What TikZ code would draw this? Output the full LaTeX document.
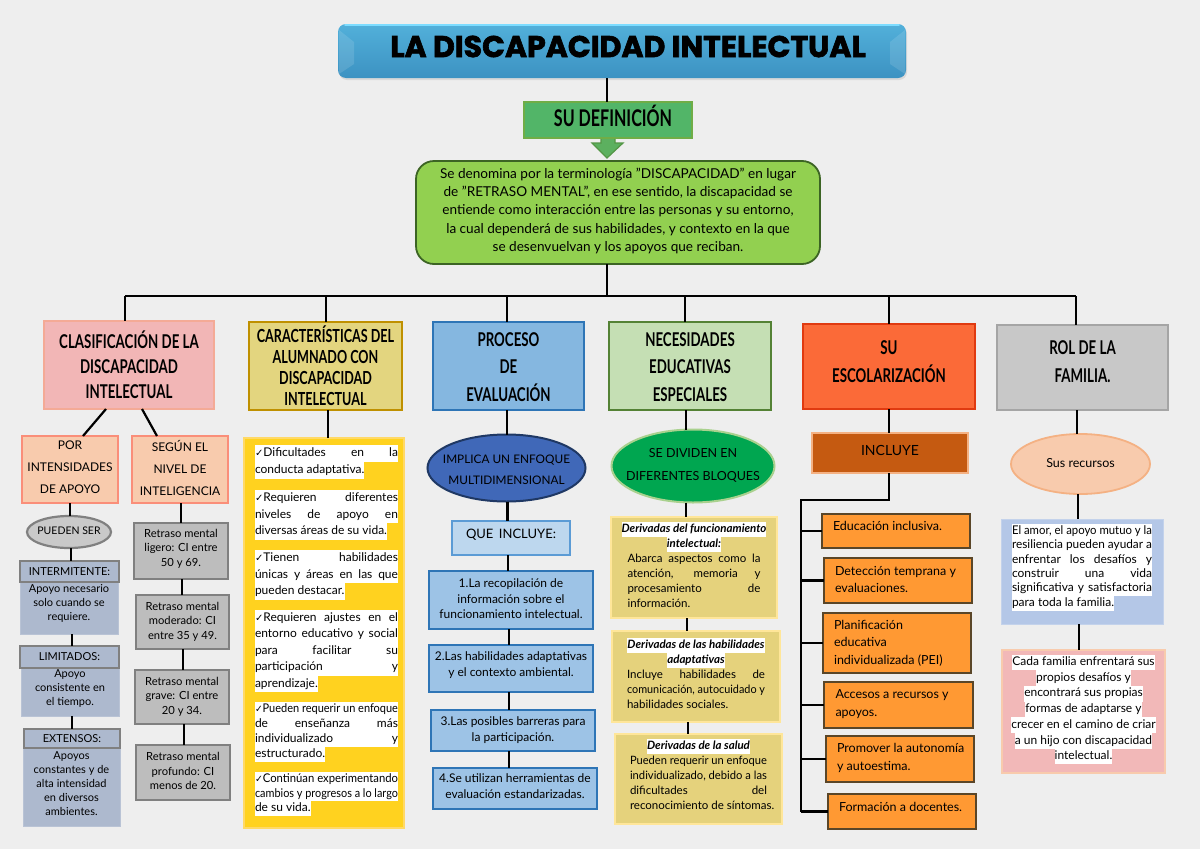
\documentclass[tikz,border=0pt]{standalone}
\usepackage{fontspec}
\usepackage{graphicx}
\usetikzlibrary{shapes.geometric}
\setmainfont{Lato}
\newfontfamily\headfont[FakeStretch=0.70]{Lato}
\newfontfamily\titlefont[BoldFeatures={FakeBold=2.2}]{Poppins}
\newfontfamily\dejavu{DejaVu Sans}
\setlength\fboxsep{0pt}
\definecolor{bgc}{HTML}{EEEEEE}
\newcommand\mybox[7]{\node[#1,minimum width={(#5-#3)*1pt},minimum height={(#6-#4)*1pt}] (#2) at ({(#3+#5)/2},{(#4+#6)/2}) {#7};}
\newcommand\txc[2]{\raisebox{\dimexpr#1pt-.25em\relax}[0pt][0pt]{\begin{tabular}{@{}c@{}}#2\end{tabular}}}
\newcommand\txe[2]{\makebox[0pt]{\txc{#1}{#2}}}
\newcommand\txl[3]{\raisebox{\dimexpr#1pt-.25em\relax}[0pt][0pt]{\makebox[#2pt][l]{\begin{tabular}{@{}l@{}}#3\end{tabular}}}}
\newcommand\jln[2]{\begingroup\sbox0{#2}\ifdim\wd0>#1pt\resizebox{#1pt}{\height}{\usebox0}\else\makebox[#1pt][s]{#2}\fi\endgroup}
\newcommand\hln[2]{\colorbox{white}{\jln{#1}{\strut #2}}}
\newcommand\hlx[1]{\colorbox{white}{\strut #1}}
\newcommand\ck{{\dejavu\fontsize{10}{10}\selectfont ✓}}
\newcommand\fs[2]{\fontsize{#1}{#2}\selectfont}
\newcommand\vc[3]{\path (#3,0) coordinate (vx); \draw[conn] (vx |- #1.south) -- (vx |- #2.north);}
\newcommand\dr[2]{\path (#1,0) coordinate (vx); \draw[conn] (vx |- busL) -- (vx |- #2.north);}
\newcommand\stub[1]{\draw[conn] (tr |- #1.west) -- (#1.west);}
\tikzset{
  conn/.style={draw=black,line width=2.2pt},
  base/.style={draw,rectangle,inner sep=0pt,outer sep=0pt,align=center},
  headb/.style={base,line width=1.8pt,font=\headfont\bfseries\fs{19}{25}},
  head4/.style={headb,font=\headfont\bfseries\fs{18}{21}},
  subb/.style={base,fill=#1,line width=1.5pt,draw=#1!70!red,font=\fs{12.5}{22}},
  ell/.style={ellipse,draw,inner sep=0pt,outer sep=0pt,align=center},
  hdrb/.style={base,fill=bluebox,draw=gray,line width=1.8pt,font=\fs{11}{14}},
  bodyb/.style={base,fill=bluebox,draw=bluebox!85!white,line width=1pt,font=\fs{11}{14}},
  retb/.style={base,fill=retfill,draw=retline,line width=1.5pt,font=\fs{11.2}{14.5}},
  procb/.style={base,fill=procfill,draw=procline,line width=1.2pt,font=\fs{12}{15.5}},
  derb/.style={base,fill=derfill,draw=derline,line width=1.2pt,font=\fs{11.5}{15}},
  orab/.style={base,fill=orafill,draw=oraline,line width=1.2pt,font=\fs{12.5}{17.5}},
  item/.style={anchor=north west,inner sep=0pt,outer sep=0pt},
}
\definecolor{bluebox}{HTML}{ADB9CE}
\definecolor{retfill}{HTML}{BDBDBD}
\definecolor{retline}{HTML}{808080}
\definecolor{procfill}{HTML}{9DC3E6}
\definecolor{procline}{HTML}{2E75B6}
\definecolor{derfill}{HTML}{E5D27C}
\definecolor{derline}{HTML}{FFE699}
\definecolor{orafill}{HTML}{FF9933}
\definecolor{oraline}{HTML}{5A4628}
\definecolor{peach}{HTML}{F8CBAD}
\begin{document}
\begin{tikzpicture}[x=1pt,y=-1pt]
\useasboundingbox (0,0) rectangle (1200,849);
\fill[bgc] (0,0) rectangle (1200,849);
% title
\fill[black!15,rounded corners=8pt] (339,26) rectangle (907,80);
\mybox{base,draw=none,rounded corners=8pt,top color={rgb,255:red,82;green,176;blue,218},bottom color={rgb,255:red,60;green,146;blue,194},font=\titlefont\bfseries\fs{30}{34}}{ttl}{338}{24}{906}{78}{\hspace*{12pt}\txc{2}{LA DISCAPACIDAD INTELECTUAL}}
\fill[white,opacity=.12] (339,30) -- (354,42) -- (354,64) -- (339,74) -- cycle;
\fill[white,opacity=.12] (905,30) -- (890,42) -- (890,64) -- (905,74) -- cycle;
\draw[line width=1.5pt,color={rgb,255:red,125;green,220;blue,255},line cap=round] (345,25) -- (899,25);
% definition
\draw[fill={rgb,255:red,92;green,176;blue,95},draw={rgb,255:red,84;green,150;blue,70},line width=1.2pt] (601,138) -- (601,143) -- (592,143) -- (607,158) -- (623,143) -- (615,143) -- (615,138) -- cycle;
\mybox{headb,fill={rgb,255:red,82;green,181;blue,104},draw={rgb,255:red,112;green,173;blue,71},line width=1.5pt,font=\headfont\bfseries\fs{23}{25}}{sd}{524}{102}{692}{138}{\hspace*{10pt}\txc{0}{SU DEFINICIÓN}}
\mybox{base,rounded corners=18pt,fill={rgb,255:red,146;green,208;blue,80},draw={rgb,255:red,60;green,100;blue,36},line width=1.8pt,font=\fs{13.6}{18.2}}{def}{416}{161}{820}{264}{\txc{1}{Se denomina por la terminología "DISCAPACIDAD" en lugar\\de "RETRASO MENTAL", en ese sentido, la discapacidad se\\entiende como interacción entre las personas y su entorno,\\la cual dependerá de sus habilidades, y contexto en la que\\se desenvuelvan y los apoyos que reciban.}}
\coordinate (busL) at (125,296);
\coordinate (busR) at (1076,296);
% top row
\mybox{headb,fill={rgb,255:red,242;green,182;blue,182},draw={rgb,255:red,244;green,170;blue,150}}{clas}{44}{321}{214}{409}{\txc{-3}{CLASIFICACIÓN DE LA\\DISCAPACIDAD\\INTELECTUAL}}
\mybox{head4,fill={rgb,255:red,227;green,213;blue,127},draw={rgb,255:red,191;green,144;blue,0}}{car}{249}{322}{402}{410}{\txc{-3}{CARACTERÍSTICAS DEL\\ALUMNADO CON\\DISCAPACIDAD\\INTELECTUAL}}
\mybox{headb,fill={rgb,255:red,133;green,183;blue,224},draw={rgb,255:red,46;green,117;blue,182},font=\headfont\bfseries\fs{19}{27.5}}{proc}{433}{322}{584}{410}{\txc{-2}{PROCESO\\DE\\EVALUACIÓN}}
\mybox{headb,fill={rgb,255:red,197;green,223;blue,180},draw={rgb,255:red,84;green,130;blue,53},font=\headfont\bfseries\fs{19}{27.5}}{nec}{609}{322}{771}{410}{\txc{-2}{NECESIDADES\\EDUCATIVAS\\ESPECIALES}}
\mybox{headb,fill={rgb,255:red,251;green,106;blue,56},draw={rgb,255:red,224;green,58;blue,16},font=\headfont\bfseries\fs{19}{28}}{esc}{803}{324}{975}{409}{\txc{4}{SU\\ESCOLARIZACIÓN}}
\mybox{headb,fill={rgb,255:red,200;green,200;blue,200},draw={rgb,255:red,165;green,165;blue,165},font=\headfont\bfseries\fs{19}{28}}{rol}{997}{325}{1168}{410}{\txc{5}{ROL DE LA\\FAMILIA.}}
% column 1
\mybox{subb=peach,font=\fs{12}{22}}{por}{22}{436}{118}{503}{\txc{2}{POR\\INTENSIDADES\\DE APOYO}}
\mybox{subb=peach,font=\fs{12}{22}}{seg}{132}{436}{228}{503}{\txc{0}{SEGÚN EL\\NIVEL DE\\INTELIGENCIA}}
\node[ell,fill=black!21,draw=gray,line width=2.2pt,minimum width=84pt,minimum height=32pt,font=\fs{10.5}{14}] (pue) at (69,532) {\txe{0}{PUEDEN SER}};
\mybox{bodyb}{b1}{20}{582}{118}{634}{\txc{4}{Apoyo necesario\\solo cuando se\\requiere.}}
\mybox{hdrb}{h1}{20}{561}{119}{582}{INTERMITENTE:}
\mybox{bodyb}{b2}{21}{668}{119}{716}{\txc{3}{Apoyo\\consistente en\\el tiempo.}}
\mybox{hdrb}{h2}{20}{646}{119}{668}{LIMITADOS:}
\mybox{bodyb}{b3}{23}{748}{120}{826}{\txc{2}{Apoyos\\constantes y de\\alta intensidad\\en diversos\\ambientes.}}
\mybox{hdrb}{h3}{24}{729}{120}{748}{EXTENSOS:}
\mybox{retb}{r1}{134}{523}{228}{579}{\txc{2}{Retraso mental\\ligero: CI entre\\50 y 69.}}
\mybox{retb}{r2}{136}{595}{229}{649}{\txc{0}{Retraso mental\\moderado: CI\\entre 35 y 49.}}
\mybox{retb}{r3}{135}{670}{229}{724}{\txc{0}{Retraso mental\\grave: CI entre\\20 y 34.}}
\mybox{retb}{r4}{136}{745}{230}{800}{\txc{0}{Retraso mental\\profundo: CI\\menos de 20.}}
% column 2
\mybox{base,fill={rgb,255:red,255;green,210;blue,31},draw={rgb,255:red,255;green,217;blue,102},line width=2pt}{pan}{244}{438}{404}{828}{}
\node[item] (i1) at (255,445) {\fs{12}{17}\begin{tabular}{@{}l@{}}\hln{143}{\ck Dificultades en la}\\\hlx{conducta adaptativa.}\end{tabular}};
\node[item] (i2) at (255,490) {\fs{12}{16.6}\begin{tabular}{@{}l@{}}\hln{143}{\ck Requieren diferentes}\\\hln{143}{niveles de apoyo en}\\\hlx{diversas áreas de su vida.}\end{tabular}};
\node[item] (i3) at (255,550) {\fs{12}{16.6}\begin{tabular}{@{}l@{}}\hln{143}{\ck Tienen habilidades}\\\hln{143}{únicas y áreas en las que}\\\hlx{pueden destacar.}\end{tabular}};
\node[item] (i4) at (255,610) {\fs{12}{16.4}\begin{tabular}{@{}l@{}}\hln{143}{\ck Requieren ajustes en el}\\\hln{143}{entorno educativo y social}\\\hln{143}{para facilitar su}\\\hln{143}{participación y}\\\hlx{aprendizaje.}\end{tabular}};
\node[item] (i5) at (255,702) {\fs{12}{15}\begin{tabular}{@{}l@{}}\hln{143}{\ck Pueden requerir un enfoque}\\\hln{143}{de enseñanza más}\\\hln{143}{individualizado y}\\\hlx{estructurado.}\end{tabular}};
\node[item] (i6) at (255,772) {\fs{12}{14.7}\begin{tabular}{@{}l@{}}\hln{143}{\ck Continúan experimentando}\\\hln{143}{cambios y progresos a lo largo}\\\hlx{de su vida.}\end{tabular}};
% column 3
\node[ell,fill={rgb,255:red,64;green,104;blue,184},draw={rgb,255:red,31;green,56;blue,100},line width=2pt,minimum width=158pt,minimum height=67pt,font=\fs{11.8}{21}] (imp) at (506.5,468) {\txe{-2}{IMPLICA UN ENFOQUE\\MULTIDIMENSIONAL}};
\mybox{base,fill={rgb,255:red,189;green,215;blue,238},draw={rgb,255:red,91;green,155;blue,213},line width=1.2pt,font=\fs{13}{15}}{que}{452}{521}{570}{555}{\txc{3}{QUE\, INCLUYE:}}
\mybox{procb}{p1}{429}{571}{593}{629}{\txc{0}{1.La recopilación de\\información sobre el\\funcionamiento intelectual.}}
\mybox{procb}{p2}{429}{645}{593}{692}{\txc{3}{2.Las habilidades adaptativas\\y el contexto ambiental.}}
\mybox{procb}{p3}{431}{710}{595}{751}{\txc{0}{3.Las posibles barreras para\\la participación.}}
\mybox{procb}{p4}{433}{768}{597}{809}{\txc{1}{4.Se utilizan herramientas de\\evaluación estandarizadas.}}
% column 4
\node[ell,fill={rgb,255:red,0;green,166;blue,80},draw={rgb,255:red,169;green,209;blue,142},line width=2pt,minimum width=163pt,minimum height=73pt,font=\fs{12.5}{23}] (div) at (693,466) {\txe{2}{SE DIVIDEN EN\\DIFERENTES BLOQUES}};
\mybox{derb}{d1}{611}{517}{777}{618}{\txc{0}{\hlx{\itshape\bfseries Derivadas del funcionamiento}\\\hlx{\itshape\bfseries intelectual:}\\\jln{133}{Abarca aspectos como la}\\\jln{133}{atención, memoria y}\\\jln{133}{procesamiento de}\\\makebox[133pt][l]{información.}}}
\mybox{derb}{d2}{612}{631}{780}{722}{\txc{1}{\hlx{\itshape\bfseries Derivadas de las habilidades}\\\hlx{\itshape\bfseries adaptativas}\\\jln{138}{Incluye habilidades de}\\\jln{138}{comunicación, autocuidado y}\\\makebox[138pt][l]{habilidades sociales.}}}
\mybox{derb}{d3}{615}{734}{782}{824}{\txc{2}{\hlx{\itshape\bfseries Derivadas de la salud}\\\jln{137}{Pueden requerir un enfoque}\\\jln{137}{individualizado, debido a las}\\\jln{137}{dificultades del}\\\makebox[137pt][l]{reconocimiento de síntomas.}}}
% column 5
\mybox{base,fill={rgb,255:red,197;green,90;blue,17},draw={rgb,255:red,244;green,177;blue,131},line width=1.8pt,font=\fs{14}{16}}{inc}{812}{433}{968}{473}{\txc{1}{INCLUYE}}
\mybox{orab}{o1}{822}{514}{970}{548}{\txl{4}{126}{Educación inclusiva.}}
\mybox{orab}{o2}{824}{558}{972}{603}{\txl{0}{126}{Detección temprana y\\evaluaciones.}}
\mybox{orab}{o3}{823}{613}{971}{673}{\txl{0}{126}{Planificación\\educativa\\individualizada (PEI)}}
\mybox{orab}{o4}{824}{682}{973}{728}{\txl{1}{126}{Accesos a recursos y\\apoyos.}}
\mybox{orab}{o5}{826}{736}{974}{782}{\txl{1}{126}{Promover la autonomía\\y autoestima.}}
\mybox{orab}{o6}{828}{794}{976}{829}{\txl{4}{126}{Formación a docentes.}}
% column 6
\node[ell,fill=peach,draw={rgb,255:red,244;green,177;blue,131},line width=1.8pt,minimum width=139pt,minimum height=60pt,font=\fs{12.5}{15}] (sus) at (1080.5,464) {\txe{0}{Sus recursos}};
\mybox{base,fill={rgb,255:red,180;green,199;blue,231},draw={rgb,255:red,195;green,210;blue,235},line width=1pt,font=\fs{12}{14.4}}{fam1}{1001}{519}{1163}{624}{\txc{4}{\hln{140}{El amor, el apoyo mutuo y la}\\\hln{140}{resiliencia pueden ayudar a}\\\hln{140}{enfrentar los desafíos y}\\\hln{140}{construir una vida}\\\hln{140}{significativa y satisfactoria}\\\makebox[140pt][l]{\hlx{para toda la familia.}}}}
\mybox{base,fill={rgb,255:red,242;green,184;blue,184},draw=peach,line width=1.2pt,font=\fs{12}{15.7}}{fam2}{1002}{650}{1165}{773}{\txc{2}{\hlx{Cada familia enfrentará sus}\\\hlx{propios desafíos y}\\\hlx{encontrará sus propias}\\\hlx{formas de adaptarse y}\\\hlx{crecer en el camino de criar}\\\hlx{a un hijo con discapacidad}\\\hlx{intelectual.}}}
% connectors
\vc{ttl}{sd}{607}
\path (607,0) coordinate (vx); \draw[conn] (vx |- def.south) -- (vx |- busL);
\draw[conn] (busL) -- (busR);
\dr{125}{clas}\dr{326}{car}\dr{507}{proc}\dr{685}{nec}\dr{889}{esc}\dr{1076}{rol}
\draw[conn] ([xshift=-23pt]clas.south) -- ([xshift=13pt]por.north);
\draw[conn] ([xshift=13pt]clas.south) -- ([xshift=-23pt]seg.north);
\vc{por}{pue}{70}\vc{pue}{h1}{71}\vc{b1}{h2}{72}\vc{b2}{h3}{72}
\vc{seg}{r1}{181}\vc{r1}{r2}{182}\vc{r2}{r3}{183}\vc{r3}{r4}{184}
\vc{car}{pan}{328}
\vc{proc}{imp}{507}\vc{imp}{que}{507.5}\vc{que}{p1}{508}\vc{p1}{p2}{509}\vc{p2}{p3}{509}\vc{p3}{p4}{509}
\vc{nec}{div}{686}\vc{div}{d1}{686}\vc{d1}{d2}{687}\vc{d2}{d3}{688}
\vc{esc}{inc}{889}
\path (889,0) coordinate (vx);
\coordinate (tr) at (801,500);
\draw[conn] (vx |- inc.south) -- (vx |- tr) -- (tr) -- (tr |- o6.west);
\stub{o1}\stub{o2}\stub{o3}\stub{o4}\stub{o5}\stub{o6}
\vc{rol}{sus}{1077}\vc{sus}{fam1}{1078}\vc{fam1}{fam2}{1079}
\end{tikzpicture}
\end{document}
